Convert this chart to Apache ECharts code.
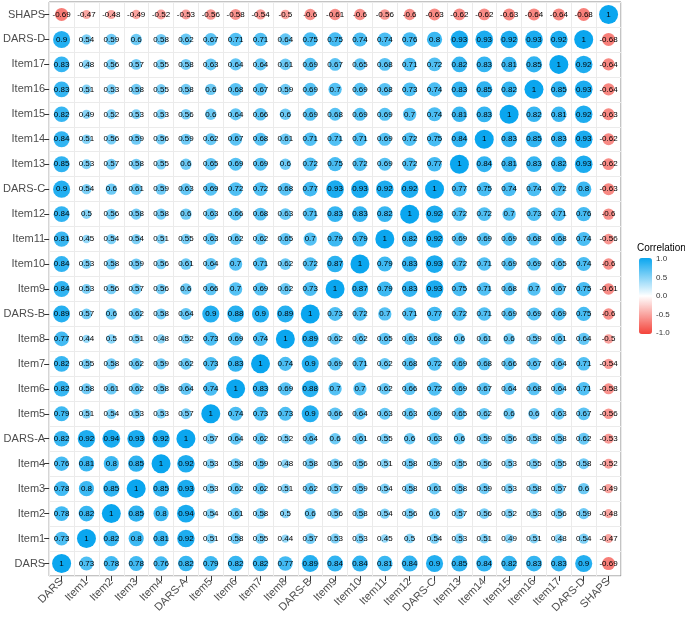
<!DOCTYPE html>
<html>
<head>
<meta charset="utf-8">
<script src="https://cdn.jsdelivr.net/npm/echarts@6/dist/echarts.min.js"></script>
<style>html,body{margin:0;padding:0;background:#fff}#chart{width:685px;height:617px}</style>
</head>
<body>
<div id="chart"></div>
<script>
// variables, bottom-to-top on y, left-to-right on x
var vars = ["DARS","Item1","Item2","Item3","Item4","DARS-A","Item5","Item6","Item7","Item8","DARS-B",
	"Item9","Item10","Item11","Item12","DARS-C","Item13","Item14","Item15","Item16","Item17","DARS-D","SHAPS"];

// rows of the matrix, same order as vars
var rDARS   = [1,0.73,0.78,0.78,0.76,0.82,0.79,0.82,0.82,0.77,0.89,0.84,0.84,0.81,0.84,0.9,0.85,0.84,0.82,0.83,0.83,0.9,-0.69];
var rItem1  = [0.73,1,0.82,0.8,0.81,0.92,0.51,0.58,0.55,0.44,0.57,0.53,0.53,0.45,0.5,0.54,0.53,0.51,0.49,0.51,0.48,0.54,-0.47];
var rItem2  = [0.78,0.82,1,0.85,0.8,0.94,0.54,0.61,0.58,0.5,0.6,0.56,0.58,0.54,0.56,0.6,0.57,0.56,0.52,0.53,0.56,0.59,-0.48];
var rItem3  = [0.78,0.8,0.85,1,0.85,0.93,0.53,0.62,0.62,0.51,0.62,0.57,0.59,0.54,0.58,0.61,0.58,0.59,0.53,0.58,0.57,0.6,-0.49];
var rItem4  = [0.76,0.81,0.8,0.85,1,0.92,0.53,0.58,0.59,0.48,0.58,0.56,0.56,0.51,0.58,0.59,0.55,0.56,0.53,0.55,0.55,0.58,-0.52];
var rDARSA  = [0.82,0.92,0.94,0.93,0.92,1,0.57,0.64,0.62,0.52,0.64,0.6,0.61,0.55,0.6,0.63,0.6,0.59,0.56,0.58,0.58,0.62,-0.53];
var rItem5  = [0.79,0.51,0.54,0.53,0.53,0.57,1,0.74,0.73,0.73,0.9,0.66,0.64,0.63,0.63,0.69,0.65,0.62,0.6,0.6,0.63,0.67,-0.56];
var rItem6  = [0.82,0.58,0.61,0.62,0.58,0.64,0.74,1,0.83,0.69,0.88,0.7,0.7,0.62,0.66,0.72,0.69,0.67,0.64,0.68,0.64,0.71,-0.58];
var rItem7  = [0.82,0.55,0.58,0.62,0.59,0.62,0.73,0.83,1,0.74,0.9,0.69,0.71,0.62,0.68,0.72,0.69,0.68,0.66,0.67,0.64,0.71,-0.54];
var rItem8  = [0.77,0.44,0.5,0.51,0.48,0.52,0.73,0.69,0.74,1,0.89,0.62,0.62,0.65,0.63,0.68,0.6,0.61,0.6,0.59,0.61,0.64,-0.5];
var rDARSB  = [0.89,0.57,0.6,0.62,0.58,0.64,0.9,0.88,0.9,0.89,1,0.73,0.72,0.7,0.71,0.77,0.72,0.71,0.69,0.69,0.69,0.75,-0.6];
var rItem9  = [0.84,0.53,0.56,0.57,0.56,0.6,0.66,0.7,0.69,0.62,0.73,1,0.87,0.79,0.83,0.93,0.75,0.71,0.68,0.7,0.67,0.75,-0.61];
var rItem10 = [0.84,0.53,0.58,0.59,0.56,0.61,0.64,0.7,0.71,0.62,0.72,0.87,1,0.79,0.83,0.93,0.72,0.71,0.69,0.69,0.65,0.74,-0.6];
var rItem11 = [0.81,0.45,0.54,0.54,0.51,0.55,0.63,0.62,0.62,0.65,0.7,0.79,0.79,1,0.82,0.92,0.69,0.69,0.69,0.68,0.68,0.74,-0.56];
var rItem12 = [0.84,0.5,0.56,0.58,0.58,0.6,0.63,0.66,0.68,0.63,0.71,0.83,0.83,0.82,1,0.92,0.72,0.72,0.7,0.73,0.71,0.76,-0.6];
var rDARSC  = [0.9,0.54,0.6,0.61,0.59,0.63,0.69,0.72,0.72,0.68,0.77,0.93,0.93,0.92,0.92,1,0.77,0.75,0.74,0.74,0.72,0.8,-0.63];
var rItem13 = [0.85,0.53,0.57,0.58,0.55,0.6,0.65,0.69,0.69,0.6,0.72,0.75,0.72,0.69,0.72,0.77,1,0.84,0.81,0.83,0.82,0.93,-0.62];
var rItem14 = [0.84,0.51,0.56,0.59,0.56,0.59,0.62,0.67,0.68,0.61,0.71,0.71,0.71,0.69,0.72,0.75,0.84,1,0.83,0.85,0.83,0.93,-0.62];
var rItem15 = [0.82,0.49,0.52,0.53,0.53,0.56,0.6,0.64,0.66,0.6,0.69,0.68,0.69,0.69,0.7,0.74,0.81,0.83,1,0.82,0.81,0.92,-0.63];
var rItem16 = [0.83,0.51,0.53,0.58,0.55,0.58,0.6,0.68,0.67,0.59,0.69,0.7,0.69,0.68,0.73,0.74,0.83,0.85,0.82,1,0.85,0.93,-0.64];
var rItem17 = [0.83,0.48,0.56,0.57,0.55,0.58,0.63,0.64,0.64,0.61,0.69,0.67,0.65,0.68,0.71,0.72,0.82,0.83,0.81,0.85,1,0.92,-0.64];
var rDARSD  = [0.9,0.54,0.59,0.6,0.58,0.62,0.67,0.71,0.71,0.64,0.75,0.75,0.74,0.74,0.76,0.8,0.93,0.93,0.92,0.93,0.92,1,-0.68];
var rSHAPS  = [-0.69,-0.47,-0.48,-0.49,-0.52,-0.53,-0.56,-0.58,-0.54,-0.5,-0.6,-0.61,-0.6,-0.56,-0.6,-0.63,-0.62,-0.62,-0.63,-0.64,-0.64,-0.68,1];

var rows = [rDARS,rItem1,rItem2,rItem3,rItem4,rDARSA,rItem5,rItem6,rItem7,rItem8,rDARSB,
	rItem9,rItem10,rItem11,rItem12,rDARSC,rItem13,rItem14,rItem15,rItem16,rItem17,rDARSD,rSHAPS];
var legendTicks = ["1.0","0.5","0.0","-0.5","-1.0"];

var points = [];
for(var i = 0; i < rows.length; i++) {
	for(var j = 0; j < rows[i].length; j++) {
		points.push([j, i, rows[i][j]]);
	}
}

var gridLine = { show: true, lineStyle: { color: '#ebebeb', width: 1 } };

//图例刻度
var legendTexts = [];
for(var k = 0; k < legendTicks.length; k++) {
	legendTexts.push({
		type: 'text', left: 656, top: 255 + k * 18.5,
		style: { text: legendTicks[k], fontSize: 8, fill: '#333', fontFamily: 'Liberation Sans' }
	});
}
legendTexts.push({
	type: 'text', left: 637, top: 243,
	style: { text: 'Correlation', fontSize: 10, fill: '#000', fontFamily: 'Liberation Sans' }
});

var option = {
	animation: false,
	textStyle: { fontFamily: 'Liberation Sans' },
	grid: { left: 47, right: 64, top: 2, bottom: 41, show: true, borderColor: '#888', borderWidth: 1 },
	xAxis: {
		type: 'category', data: vars, boundaryGap: true,
		axisTick: { show: true, alignWithLabel: true, lineStyle: { color: '#333' } },
		axisLine: { show: false },
		axisLabel: { rotate: 45, fontSize: 11, color: '#4d4d4d', interval: 0, margin: 4 },
		splitLine: gridLine
	},
	yAxis: {
		type: 'category', data: vars, boundaryGap: true,
		axisTick: { show: true, alignWithLabel: true, lineStyle: { color: '#333' } },
		axisLine: { show: false },
		axisLabel: { fontSize: 11, color: '#4d4d4d', interval: 0, margin: 4 },
		splitLine: gridLine
	},
	visualMap: {
		type: 'continuous', min: -1, max: 1, dimension: 2,
		calculable: false, showLabel: false, text: null,
		left: 639, top: 258, padding: 0, itemWidth: 13, itemHeight: 76,
		inRange: { color: ['#f4433a', '#ffffff', '#0aa6ef'] }
	},
	graphic: legendTexts,
	series: [{
		type: 'scatter',
		data: points,
		symbolSize: function(d) { return Math.abs(d[2]) * 19; },
		label: {
			show: true, position: 'inside', fontSize: 8, color: '#000',
			formatter: function(p) { return String(p.value[2]); }
		},
		itemStyle: { opacity: 1 }
	}]
};

var chart = echarts.init(document.getElementById('chart'));
chart.setOption(option);
</script>
</body>
</html>
